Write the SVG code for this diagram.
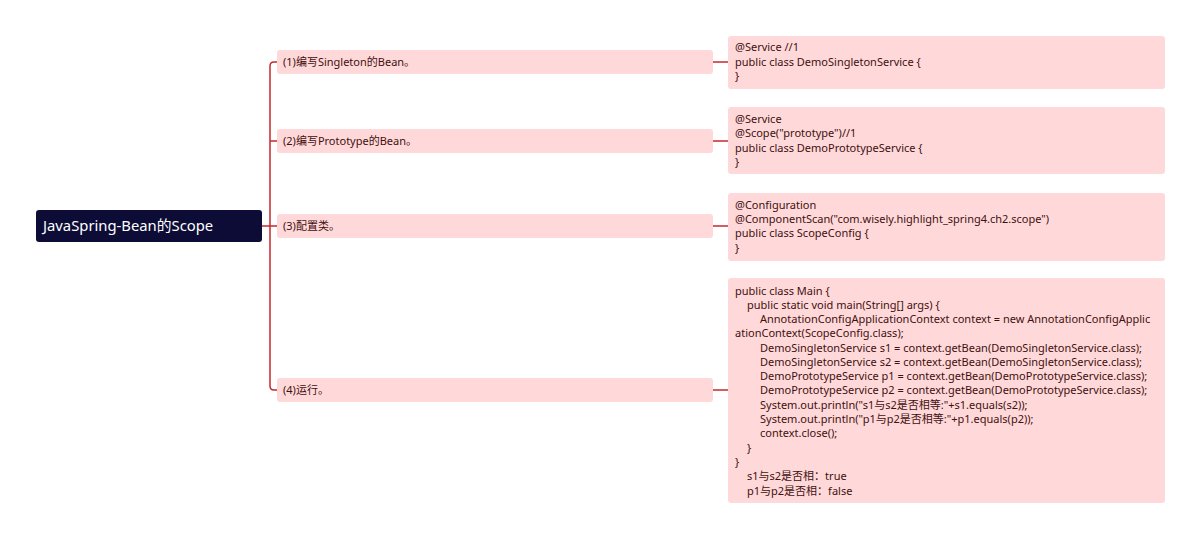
<svg xmlns="http://www.w3.org/2000/svg" width="1200" height="539" viewBox="0 0 1200 539">
<style>
.bg{fill:#ffffff}
.root{fill:#0c0c36}
.rt{fill:#ffffff;font-family:"Noto Sans","Noto Sans CJK SC",sans-serif;font-size:14.8px}
.br{fill:#ffd9d9}
.t{fill:#3f1010;font-family:"Noto Sans","Noto Sans CJK SC",sans-serif;font-size:11px}
.c{fill:none;stroke:#c8282c;stroke-width:1.5}
</style>
<rect class="bg" width="1200" height="539"/>
<g id="connectors">
<path class="c" d="M262 226 H270"/>
<path class="c" d="M277 62 H274 Q270 62 270 66 V386 Q270 390 274 390 H277"/>
<path class="c" d="M270 141 H277 M270 226 H277"/>
<path class="c" d="M713 62 H728 M713 141 H728 M713 226 H728 M713 390 H728"/>
</g>
<g id="root">
<rect class="root" x="36" y="210" width="226" height="32" rx="3"/>
<text class="rt" x="43" y="231">JavaSpring-Bean的Scope</text>
</g>
<g id="b1"><rect class="br" x="277" y="50" width="436" height="24" rx="3"/><text class="t" x="283" y="66">(1)编写Singleton的Bean。</text></g>
<g id="b2"><rect class="br" x="277" y="129" width="436" height="24" rx="3"/><text class="t" x="283" y="145">(2)编写Prototype的Bean。</text></g>
<g id="b3"><rect class="br" x="277" y="214" width="436" height="24" rx="3"/><text class="t" x="283" y="230">(3)配置类。</text></g>
<g id="b4"><rect class="br" x="277" y="378" width="436" height="24" rx="3"/><text class="t" x="283" y="394">(4)运行。</text></g>
<g id="l1"><rect class="br" x="728" y="36" width="437" height="53" rx="3"/>
<text class="t"><tspan x="735" y="51">@Service //1</tspan><tspan x="735" y="66">public class DemoSingletonService {</tspan><tspan x="735" y="80">}</tspan></text></g>
<g id="l2"><rect class="br" x="728" y="107" width="437" height="67" rx="3"/>
<text class="t"><tspan x="735" y="123">@Service</tspan><tspan x="735" y="137">@Scope("prototype")//1</tspan><tspan x="735" y="152">public class DemoPrototypeService {</tspan><tspan x="735" y="166">}</tspan></text></g>
<g id="l3"><rect class="br" x="728" y="193" width="437" height="68" rx="3"/>
<text class="t"><tspan x="735" y="209">@Configuration</tspan><tspan x="735" y="223">@ComponentScan("com.wisely.highlight_spring4.ch2.scope")</tspan><tspan x="735" y="237">public class ScopeConfig {</tspan><tspan x="735" y="252">}</tspan></text></g>
<g id="l4"><rect class="br" x="728" y="278" width="437" height="225" rx="3"/>
<text class="t">
<tspan x="735" y="295">public class Main {</tspan>
<tspan x="747" y="309">public static void main(String[] args) {</tspan>
<tspan x="760" y="323">AnnotationConfigApplicationContext context = new AnnotationConfigApplic</tspan>
<tspan x="735" y="337">ationContext(ScopeConfig.class);</tspan>
<tspan x="760" y="352">DemoSingletonService s1 = context.getBean(DemoSingletonService.class);</tspan>
<tspan x="760" y="366">DemoSingletonService s2 = context.getBean(DemoSingletonService.class);</tspan>
<tspan x="760" y="380">DemoPrototypeService p1 = context.getBean(DemoPrototypeService.class);</tspan>
<tspan x="760" y="394">DemoPrototypeService p2 = context.getBean(DemoPrototypeService.class);</tspan>
<tspan x="760" y="409">System.out.println("s1与s2是否相等:"+s1.equals(s2));</tspan>
<tspan x="760" y="423">System.out.println("p1与p2是否相等:"+p1.equals(p2));</tspan>
<tspan x="760" y="437">context.close();</tspan>
<tspan x="747" y="452">}</tspan>
<tspan x="735" y="466">}</tspan>
<tspan x="747" y="480">s1与s2是否相：true</tspan>
<tspan x="747" y="495">p1与p2是否相：false</tspan>
</text></g>
</svg>
